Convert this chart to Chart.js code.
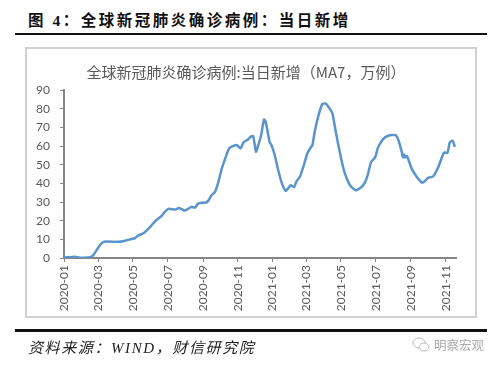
<!DOCTYPE html>
<html>
<head>
<meta charset="utf-8">
<script src="https://cdn.jsdelivr.net/npm/chart.js@4"></script>
<style>
    html, body { margin: 0; padding: 0; background: #fff; width: 500px; height: 365px; overflow: hidden; }
    #head { position: absolute; left: 28px; top: 8px; font: bold 15.5px "Liberation Serif", "Noto Sans CJK SC"; letter-spacing: 2.5px; color: #111; white-space: nowrap; }
    .rule { position: absolute; left: 15px; width: 472px; background: #111; }
    #chart { position: absolute; left: 0; top: 0; }
    #source { position: absolute; left: 28px; top: 336px; font: italic 15px "Liberation Serif", "Noto Sans CJK SC"; letter-spacing: 1.6px; color: #222; white-space: nowrap; }
    #mark { position: absolute; left: 434px; top: 335px; font: 12.5px "Noto Sans CJK SC"; color: #aaa; white-space: nowrap; }
    #icon { position: absolute; left: 411px; top: 337px; }
</style>
</head>
<body>
<div id="head">图 4：全球新冠肺炎确诊病例：当日新增</div>
<div class="rule" style="top:33px;height:2px"></div>
<canvas id="chart" width="500" height="365"></canvas>
<div class="rule" style="top:329px;height:3px"></div>
<div id="source">资料来源：WIND，财信研究院</div>
<svg id="icon" width="20" height="16"><ellipse cx="8" cy="6" rx="6" ry="5" fill="none" stroke="#bbb"/><ellipse cx="13" cy="10" rx="5" ry="4" fill="#fff" stroke="#bbb"/></svg>
<div id="mark">明察宏观</div>
<script>
var titleText = '全球新冠肺炎确诊病例:当日新增（MA7，万例）';
var tickDays = [0, 60, 121, 182, 244, 305, 366, 425, 486, 547, 609, 670];
var tickLabels = ['2020-01', '2020-03', '2020-05', '2020-07', '2020-09', '2020-11', '2021-01', '2021-03', '2021-05', '2021-07', '2021-09', '2021-11'];
// days since 2020-01-01
var days = [0, 19, 28, 46, 51, 57, 63, 68, 75, 95, 104, 116, 125, 130, 140, 151, 160, 171, 177, 183, 195, 202, 212, 224, 230, 236, 249, 253, 259, 265, 271, 277, 284, 290, 303, 310, 315, 323, 328, 332, 337, 341, 346, 351, 354, 361, 364, 370, 376, 382, 389, 393, 398, 404, 408, 414, 420, 427, 432, 436, 440, 446, 453, 459, 464, 471, 477, 481, 487, 493, 502, 512, 522, 528, 533, 539, 546, 551, 560, 569, 582, 587, 592, 595, 597, 599, 602, 610, 619, 628, 632, 639, 648, 657, 667, 673, 677, 682, 686];
var values = [0.2, 0.7, 0.2, 0.4, 1.4, 4.1, 6.8, 8.4, 8.8, 8.7, 9, 10, 10.7, 12, 13.4, 16.6, 19.7, 22.5, 24.7, 26.3, 26, 26.8, 25.4, 27.4, 27, 29.3, 29.7, 30.6, 33.6, 35.4, 40.8, 48, 54.2, 58.7, 60.6, 58.7, 61.9, 63.5, 65, 65.3, 56.9, 60.5, 65.8, 74.2, 73, 62, 60.5, 55, 47, 40.4, 36, 37.2, 39, 38, 41.1, 43.5, 48.8, 56, 58.7, 60.5, 67.6, 75.6, 82.3, 82.8, 81, 77.5, 67.6, 61.4, 52.4, 45.3, 39, 36.3, 38, 40.4, 44.4, 51.5, 53.9, 59, 63.7, 65.5, 65.8, 63.1, 57.8, 53.9, 55.5, 53.9, 54.6, 48, 43.5, 40.4, 40.8, 42.9, 43.8, 48.8, 56.5, 56.3, 61.9, 62.8, 59.5];

var points = [];
for (var i = 0; i < days.length; i++) {
    points.push({ x: days[i], y: values[i] });
}

var axisColor = '#868686';
var textColor = '#595959';

// the grey frame round the chart
var cardFrame = {
    id: 'cardFrame',
    beforeDraw: function (chart) {
        var ctx = chart.ctx;
        ctx.save();
        ctx.strokeStyle = '#d0d0d0';
        ctx.lineWidth = 2;
        ctx.strokeRect(26, 48, 450, 269);
        ctx.restore();
    }
};

new Chart(document.getElementById('chart').getContext('2d'), {
    type: 'line',
    plugins: [cardFrame],
    data: {
        datasets: [{
            data: points,
            borderColor: '#5A94CC',
            borderWidth: 2.5,
            pointRadius: 0,
            tension: 0.2,
            fill: false
        }]
    },
    options: {
        responsive: false,
        animation: false,
        // left padding keeps the title centred over the card, not the plot
        layout: { padding: { top: 63, right: 44, bottom: 0, left: 36 } },
        plugins: {
            legend: { display: false },
            tooltip: { enabled: false },
            title: {
                display: true,
                text: titleText,
                color: textColor,
                font: { family: '"Noto Sans CJK SC"', size: 15, weight: 'normal' },
                padding: { top: 0, bottom: 9 }
            }
        },
        scales: {
            x: {
                type: 'linear',
                min: 0,
                max: 688,
                afterBuildTicks: function (axis) {
                    axis.ticks = tickDays.map(function (d) { return { value: d }; });
                },
                afterFit: function (axis) { axis.height = 107; },
                border: { color: axisColor, width: 2 },
                grid: { drawOnChartArea: false, color: axisColor, tickLength: 4, tickWidth: 1 },
                ticks: {
                    minRotation: 90,
                    maxRotation: 90,
                    color: textColor,
                    font: { family: 'Lato', size: 12 },
                    callback: function (value) { return tickLabels[tickDays.indexOf(value)]; }
                }
            },
            y: {
                min: 0,
                max: 90,
                afterFit: function (axis) { axis.width = 28; },
                border: { color: axisColor, width: 2 },
                grid: { drawOnChartArea: false, color: axisColor, tickLength: 4, tickWidth: 1 },
                ticks: {
                    stepSize: 10,
                    padding: 10,
                    color: textColor,
                    font: { family: 'Lato', size: 12 }
                }
            }
        }
    }
});
</script>
</body>
</html>
